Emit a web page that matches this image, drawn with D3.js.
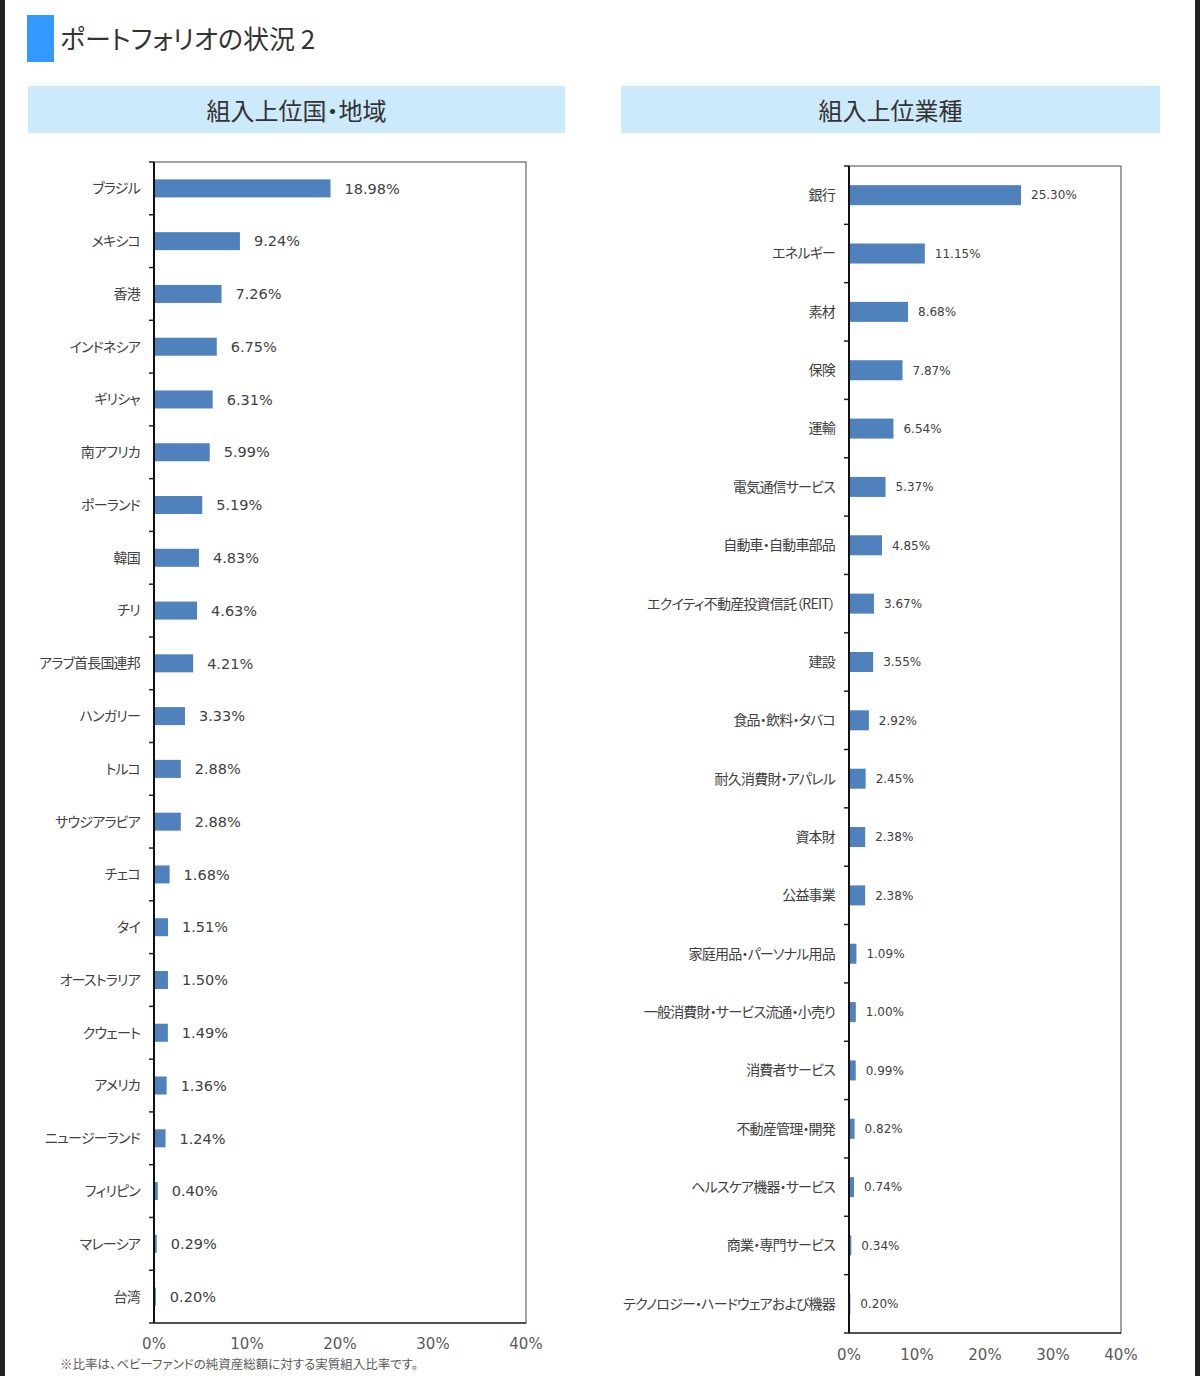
<!DOCTYPE html>
<html><head><meta charset="utf-8">
<script src="https://cdn.jsdelivr.net/npm/d3@7"></script>
<style>
body{margin:0;background:#fff;}
svg{display:block;font-family:"Noto Sans CJK JP","Noto Sans",sans-serif;}
.p{font-feature-settings:"palt";}
</style></head>
<body><svg id="c" width="1200" height="1376"></svg>
<script>
const countries = ["ブラジル","メキシコ","香港","インドネシア","ギリシャ","南アフリカ","ポーランド","韓国","チリ","アラブ首長国連邦","ハンガリー","トルコ","サウジアラビア","チェコ","タイ","オーストラリア","クウェート","アメリカ","ニュージーランド","フィリピン","マレーシア","台湾"];
const countryValues = [18.98,9.24,7.26,6.75,6.31,5.99,5.19,4.83,4.63,4.21,3.33,2.88,2.88,1.68,1.51,1.50,1.49,1.36,1.24,0.40,0.29,0.20];
const sectors = ["銀行","エネルギー","素材","保険","運輸","電気通信サービス","自動車・自動車部品","エクイティ不動産投資信託（REIT）","建設","食品・飲料・タバコ","耐久消費財・アパレル","資本財","公益事業","家庭用品・パーソナル用品","一般消費財・サービス流通・小売り","消費者サービス","不動産管理・開発","ヘルスケア機器・サービス","商業・専門サービス","テクノロジー・ハードウェアおよび機器"];
const sectorValues = [25.30,11.15,8.68,7.87,6.54,5.37,4.85,3.67,3.55,2.92,2.45,2.38,2.38,1.09,1.00,0.99,0.82,0.74,0.34,0.20];
const xTicks = [0,10,20,30,40];
const title = "ポートフォリオの状況 2";
const leftTitle = "組入上位国・地域";
const rightTitle = "組入上位業種";
const footnote = "※比率は、ベビーファンドの純資産総額に対する実質組入比率です。";

const svg = d3.select("#c");
const BAR = "#4f81bd", TXT = "#404040";

svg.append("rect").attr("x",0).attr("y",0).attr("width",5).attr("height",1376).attr("fill","#222");
svg.append("rect").attr("x",1195).attr("y",0).attr("width",5).attr("height",1376).attr("fill","#222");

svg.append("rect").attr("x",27).attr("y",15).attr("width",27).attr("height",47).attr("fill","#3399ff");
svg.append("text").attr("class","p").attr("x",60).attr("y",49).attr("font-size",26).attr("fill","#333").text(title);

[[28,565,leftTitle],[621,1160,rightTitle]].forEach(([x0,x1,t])=>{
  svg.append("rect").attr("x",x0).attr("y",86).attr("width",x1-x0).attr("height",47).attr("fill","#cdeafc");
  svg.append("text").attr("class","p").attr("x",(x0+x1)/2).attr("y",120).attr("text-anchor","middle").attr("font-size",24).attr("fill","#333").text(t);
});

function chart(cfg){
  const {cats, vals, x0, x1, y0, y1, barH, catSize, valSize, valGap, tickY, tickSize} = cfg;
  const x = d3.scaleLinear().domain([0,40]).range([x0,x1]);
  const y = d3.scaleBand().domain(cats).range([y0,y1]).paddingInner(0).paddingOuter(0);
  const g = svg.append("g");
  g.append("rect").attr("x",x0).attr("y",y0).attr("width",x1-x0).attr("height",y1-y0)
    .attr("fill","none").attr("stroke","#666").attr("stroke-width",1.2);
  g.selectAll("rect.bar").data(vals).join("rect").attr("class","bar")
    .attr("x",x(0)).attr("y",(d,i)=>y(cats[i])+y.bandwidth()/2-barH/2)
    .attr("width",d=>x(d)-x(0)).attr("height",barH).attr("fill",BAR);
  g.selectAll("text.val").data(vals).join("text").attr("class","val")
    .attr("x",d=>x(d)+valGap).attr("y",(d,i)=>y(cats[i])+y.bandwidth()/2)
    .attr("dy","0.36em").attr("font-size",valSize).attr("fill",TXT)
    .attr("font-family","Verdana,'DejaVu Sans',sans-serif")
    .text(d=>d.toFixed(2)+"%");
  g.selectAll("text.cat").data(cats).join("text").attr("class","cat p")
    .attr("x",x0-14).attr("y",d=>y(d)+y.bandwidth()/2)
    .attr("dy","0.35em").attr("text-anchor","end").attr("font-size",catSize).attr("fill",TXT)
    .attr("letter-spacing",-0.8)
    .text(d=>d);
  const bounds = cats.map(c=>y(c)).concat([y1]);
  g.selectAll("line.yt").data(bounds).join("line").attr("class","yt")
    .attr("x1",x0-5).attr("x2",x0).attr("y1",d=>d).attr("y2",d=>d)
    .attr("stroke","#222").attr("stroke-width",1.5);
  g.append("line").attr("x1",x0).attr("x2",x0).attr("y1",y0).attr("y2",y1).attr("stroke","#111").attr("stroke-width",2);
  g.append("line").attr("x1",x0).attr("x2",x1).attr("y1",y1).attr("y2",y1).attr("stroke","#333").attr("stroke-width",1.5);
  g.selectAll("text.xt").data(xTicks).join("text").attr("class","xt")
    .attr("x",d=>x(d)).attr("y",tickY).attr("text-anchor","middle")
    .attr("font-size",tickSize).attr("fill","#595959")
    .attr("font-family","Verdana,'DejaVu Sans',sans-serif")
    .text(d=>d+"%");
}

chart({cats:countries, vals:countryValues, x0:154, x1:526, y0:162, y1:1323, barH:18,
  catSize:14, valSize:14.5, valGap:14, tickY:1349, tickSize:15});
chart({cats:sectors, vals:sectorValues, x0:849, x1:1121, y0:166, y1:1333, barH:20,
  catSize:14, valSize:12, valGap:10, tickY:1360, tickSize:15});

svg.append("text").attr("class","p").attr("x",60).attr("y",1369).attr("font-size",12.5).attr("fill","#595959").text(footnote);
</script></body></html>
